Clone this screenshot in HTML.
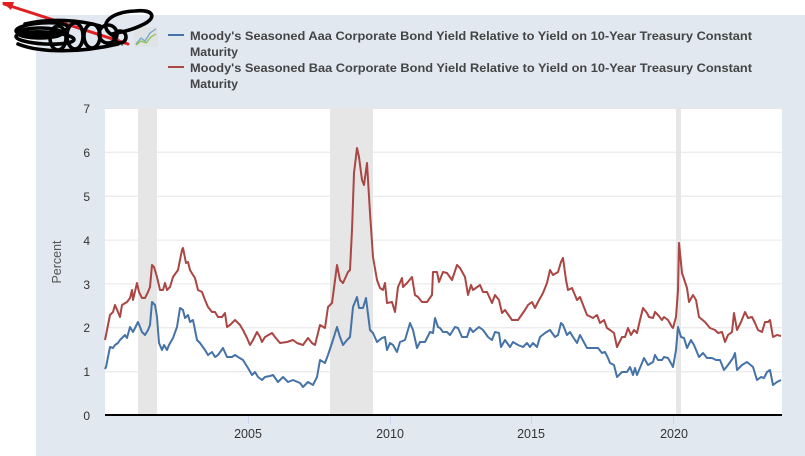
<!DOCTYPE html>
<html><head><meta charset="utf-8"><style>
html,body{margin:0;padding:0;background:#fff;}
svg{display:block;}
text{font-family:"Liberation Sans",Arial,sans-serif;}
</style></head><body>
<svg width="805" height="456" viewBox="0 0 805 456" xmlns="http://www.w3.org/2000/svg">
<rect x="0" y="0" width="805" height="456" fill="#fff"/>
<rect x="36" y="15" width="769" height="441" fill="#e1e8f0"/>
<!-- logo icon -->
<rect x="134" y="27" width="24" height="20" fill="#dfe3e6"/>
<polyline points="136,44 141,38 145,41 150,33 156,29" fill="none" stroke="#7aa6c8" stroke-width="1.3"/>
<polyline points="136,45 141,41 146,43 151,37 156,34" fill="none" stroke="#8bc34a" stroke-width="1.3"/>
<text x="112" y="46" font-size="12" font-weight="bold" fill="#8a8a8a">D.</text>
<!-- red line -->
<line x1="4" y1="4" x2="128" y2="44" stroke="#e02020" stroke-width="3" stroke-linecap="round"/>
<polygon points="2,2 14,2 11,10" fill="#e02020"/>
<!-- scribble -->
<g fill="none" stroke="#000" stroke-width="3.6" stroke-linecap="round">
<path d="M112,35 C98,26 108,12 135,11 C156,9 156,19 142,25 C132,30 122,32 112,34"/>
<ellipse cx="42" cy="29" rx="26" ry="6" transform="rotate(-4 42 29)"/>
<ellipse cx="45" cy="38" rx="29" ry="6" transform="rotate(3 45 38)"/>
<ellipse cx="40" cy="33" rx="22" ry="5"/>
<ellipse cx="58" cy="38" rx="8" ry="12"/>
<ellipse cx="75" cy="36" rx="8" ry="13"/>
<ellipse cx="92" cy="36" rx="8" ry="12"/>
<ellipse cx="108" cy="34" rx="9" ry="9"/>
<path d="M18,44 C40,53 80,53 118,44"/>
<path d="M25,24 C50,18 80,20 100,26"/>
<ellipse cx="120" cy="37" rx="6" ry="6"/>
</g>
<!-- legend -->
<line x1="168" y1="35" x2="184" y2="35" stroke="#4572a7" stroke-width="2"/>
<line x1="168" y1="67" x2="184" y2="67" stroke="#aa4643" stroke-width="2"/>
<g font-size="12.4" font-weight="bold" fill="#444">
<text x="190" y="40" textLength="562" lengthAdjust="spacingAndGlyphs">Moody's Seasoned Aaa Corporate Bond Yield Relative to Yield on 10-Year Treasury Constant</text>
<text x="190" y="56" textLength="48" lengthAdjust="spacingAndGlyphs">Maturity</text>
<text x="190" y="72" textLength="562" lengthAdjust="spacingAndGlyphs">Moody's Seasoned Baa Corporate Bond Yield Relative to Yield on 10-Year Treasury Constant</text>
<text x="190" y="88" textLength="48" lengthAdjust="spacingAndGlyphs">Maturity</text>
</g>
<!-- plot area -->
<rect x="105" y="108" width="677" height="307" fill="#fff"/>
<!-- recessions -->
<rect x="138" y="108" width="19" height="307" fill="#e6e6e6"/>
<rect x="330" y="108" width="43" height="307" fill="#e6e6e6"/>
<rect x="676" y="108" width="5" height="307" fill="#e6e6e6"/>
<!-- gridlines -->
<g stroke="#e6e6e6" stroke-width="1">
<line x1="105" y1="108.5" x2="782" y2="108.5"/>
<line x1="105" y1="152.3" x2="782" y2="152.3"/>
<line x1="105" y1="196.2" x2="782" y2="196.2"/>
<line x1="105" y1="240.1" x2="782" y2="240.1"/>
<line x1="105" y1="283.9" x2="782" y2="283.9"/>
<line x1="105" y1="327.8" x2="782" y2="327.8"/>
<line x1="105" y1="371.7" x2="782" y2="371.7"/>
</g>
<!-- y labels -->
<g font-size="12" fill="#333" text-anchor="end">
<text x="90" y="113">7</text>
<text x="90" y="157">6</text>
<text x="90" y="201">5</text>
<text x="90" y="245">4</text>
<text x="90" y="289">3</text>
<text x="90" y="332">2</text>
<text x="90" y="376">1</text>
<text x="90" y="420">0</text>
</g>
<text x="0" y="0" font-size="12.5" fill="#555" text-anchor="middle" transform="translate(61 262) rotate(-90)">Percent</text>
<!-- series -->
<polyline fill="none" stroke="#aa4643" stroke-width="2" stroke-linejoin="round" points="105,340 110,315 113,312 115,305 118,312 120,317 122,305 127,302 130,298 132,290 133,300 137,283 139,292 142,298 145,298 148,292 150,287 152,265 154,267 157,277 160,290 163,290 165,283 167,290 170,287 173,277 178,270 182,250 183,248 186,263 188,262 190,270 193,275 195,278 198,290 202,292 205,300 208,307 212,312 215,312 218,317 222,317 225,313 227,327 230,325 235,320 240,325 243,330 247,338 250,345 253,340 257,332 260,337 262,342 265,337 272,333 275,337 280,343 287,342 293,340 297,343 303,345 308,338 312,343 315,345 320,325 325,328 328,307 332,303 337,265 340,280 343,283 348,272 350,270 352,230 354,173 357,148 359,157 362,180 364,185 367,163 370,213 373,257 377,280 380,288 383,290 385,283 387,303 392,302 395,312 398,287 402,278 403,287 407,283 412,277 415,295 418,297 422,302 427,302 432,295 433,272 437,272 439,282 443,272 447,273 452,280 457,265 460,268 465,277 468,295 471,285 473,290 480,285 483,292 487,292 492,303 495,295 499,300 502,313 505,310 512,320 518,320 525,310 528,305 532,302 535,308 538,302 543,293 547,283 550,270 553,275 558,272 561,262 563,258 566,280 568,290 572,288 577,300 580,297 587,315 593,318 597,315 600,323 604,320 607,328 610,330 614,333 617,347 622,337 625,337 628,328 631,335 634,330 637,333 640,320 643,308 647,313 649,317 653,318 655,312 658,315 662,320 664,317 668,320 672,327 673,328 676,317 678,290 679,243 682,273 685,282 687,288 689,302 693,295 696,300 699,317 705,322 710,328 715,330 718,333 722,332 725,342 728,335 732,332 734,313 737,330 741,322 745,312 748,318 752,317 755,323 758,330 762,332 765,322 768,322 770,320 773,337 777,335 781,336"/>
<polyline fill="none" stroke="#4572a7" stroke-width="2" stroke-linejoin="round" points="105,369 106,367 110,347 113,348 115,345 118,343 120,340 122,338 125,335 127,338 130,327 133,332 138,322 142,332 145,335 148,330 150,325 152,302 155,305 157,317 159,343 162,350 164,345 167,350 169,345 173,338 177,327 180,308 183,310 185,318 188,315 190,322 193,320 197,340 200,343 205,350 208,355 212,352 215,357 218,355 223,348 227,357 232,357 235,355 238,357 243,360 248,368 252,375 255,372 258,377 262,380 265,377 270,376 273,375 278,382 283,377 288,382 293,380 300,383 303,387 308,382 313,385 317,377 320,360 325,363 328,355 332,343 337,327 340,337 343,345 347,340 350,337 353,307 357,297 359,308 363,308 366,298 370,330 373,333 377,342 382,338 385,337 387,350 390,343 393,345 397,352 400,342 405,340 410,323 413,330 417,348 420,342 425,342 430,332 433,333 435,318 438,327 440,328 443,332 447,332 450,335 455,327 458,328 462,337 467,337 470,328 473,332 479,327 483,330 488,337 492,340 495,332 499,333 501,347 505,340 510,347 513,342 518,345 523,347 527,343 530,347 533,343 537,347 540,337 545,333 550,330 555,337 558,335 561,323 563,325 567,335 570,332 573,337 577,343 580,335 587,348 593,348 598,348 602,353 605,352 608,358 610,363 614,365 617,377 622,372 627,372 630,367 633,375 635,368 637,375 642,363 644,358 648,365 653,362 655,355 658,360 662,360 664,357 668,358 672,365 673,367 676,350 678,327 681,337 684,338 687,348 691,340 694,345 699,357 703,353 707,358 712,358 716,360 720,360 724,370 728,365 733,358 735,353 737,370 742,365 747,362 753,367 757,380 761,377 764,378 767,372 770,370 773,385 777,382 781,380"/>
<!-- x axis -->
<line x1="105" y1="415" x2="782" y2="415" stroke="#000" stroke-width="2"/>
<g stroke="#ccd6eb" stroke-width="1">
<line x1="248.5" y1="416" x2="248.5" y2="424"/>
<line x1="390.5" y1="416" x2="390.5" y2="424"/>
<line x1="531.5" y1="416" x2="531.5" y2="424"/>
<line x1="673.5" y1="416" x2="673.5" y2="424"/>
</g>
<g font-size="12.5" fill="#333" text-anchor="middle">
<text x="248" y="438">2005</text>
<text x="390" y="438">2010</text>
<text x="531" y="438">2015</text>
<text x="674" y="438">2020</text>
</g>
</svg>
</body></html>
